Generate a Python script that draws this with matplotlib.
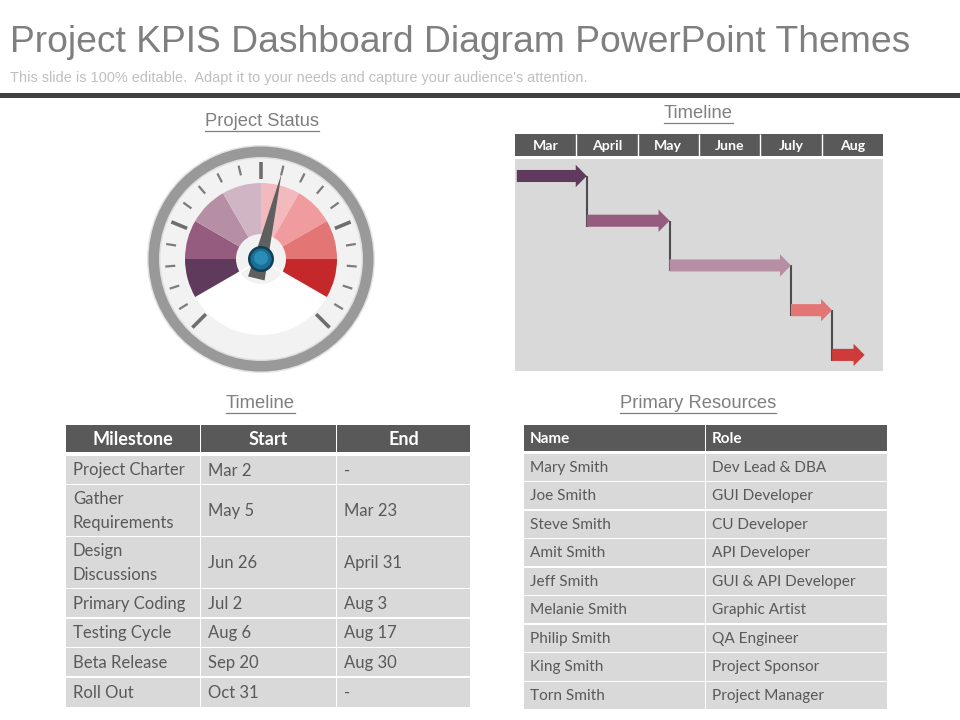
import matplotlib
matplotlib.use("Agg")
import math

import matplotlib.pyplot as plt
from matplotlib.patches import Circle, FancyArrow, Polygon, Rectangle, Wedge

# Table and timeline content
milestones = ["Project Charter", "Gather\nRequirements", "Design\nDiscussions", "Primary Coding",
              "Testing Cycle", "Beta Release", "Roll Out"]
milestone_start = ["Mar 2", "May 5", "Jun 26", "Jul 2", "Aug 6", "Sep 20", "Oct 31"]
milestone_end = ["-", "Mar 23", "April 31", "Aug 3", "Aug 17", "Aug 30", "-"]

names = ["Mary Smith", "Joe Smith", "Steve Smith", "Amit Smith", "Jeff Smith",
         "Melanie Smith", "Philip Smith", "King Smith", "Torn Smith"]
roles = ["Dev Lead & DBA", "GUI Developer", "CU Developer", "API Developer", "GUI & API Developer",
         "Graphic Artist", "QA Engineer", "Project Sponsor", "Project Manager"]

months = ["Mar", "April", "May", "June", "July", "Aug"]
gantt_start = [0.03, 1.17, 2.52, 4.5, 5.17]
gantt_end = [1.17, 2.52, 4.5, 5.17, 5.7]
gantt_colors = ["#5f3a5c", "#955c80", "#b78fa5", "#e47575", "#cf3b3b"]

gauge_colors = ["#5f3a5c", "#955c80", "#b78fa5", "#d0b6c4", "#f2b9bf", "#f09c9e", "#e47575", "#c5282a"]
gauge_value = 11  # scale runs 0 to 20

HEAD = "#595959"
CELL = "#d9d9d9"
GREY_TEXT = "#7f7f7f"
CELL_TEXT = "#595959"
W, H = 960, 720

fig = plt.figure(figsize=(9.6, 7.2), dpi=100)
page = fig.add_axes([0, 0, 1, 1])
page.set_xlim(0, W)
page.set_ylim(H, 0)
page.axis("off")


def px_axes(x0, y0, x1, y1):
    return fig.add_axes([x0 / W, 1 - y1 / H, (x1 - x0) / W, (y1 - y0) / H])


def section_title(x, y, label):
    t = page.text(x, y + 1, label, ha="center", va="center", fontsize=13.2,
                  family="Liberation Sans", color=GREY_TEXT)
    box = t.get_window_extent(fig.canvas.get_renderer())
    page.plot([box.x0, box.x1], [y + 10, y + 10], color=GREY_TEXT, lw=0.9)


def draw_table(col_x, top, head_h, gap, heads, columns, row_heights, head_size, size, head_center, pad):
    for c, head in enumerate(heads):
        x0, x1 = col_x[c] + (1 if c else 0), col_x[c + 1]
        page.add_patch(Rectangle((x0, top), x1 - x0, head_h, fc=HEAD, ec="none"))
        tx = (x0 + x1) / 2 if head_center else x0 + pad
        page.text(tx, top + head_h / 2 + 1, head, ha="center" if head_center else "left", va="center",
                  fontsize=head_size, fontweight="bold", family="Lato", color="white")
    y = top + head_h + gap
    for r, row_h in enumerate(row_heights):
        for c, col in enumerate(columns):
            x0, x1 = col_x[c] + (1 if c else 0), col_x[c + 1]
            page.add_patch(Rectangle((x0, y), x1 - x0, row_h, fc=CELL, ec="none"))
            page.text(x0 + pad, y + row_h / 2 + 0.5, col[r], ha="left", va="center", fontsize=size,
                      family="Lato", color=CELL_TEXT, linespacing=1.6)
        y += row_h + 1.3


# Header
page.text(10, 42, "Project KPIS Dashboard Diagram PowerPoint Themes", ha="left", va="center",
          fontsize=26.8, family="Liberation Sans", color=GREY_TEXT)
page.text(10, 78, "This slide is 100% editable.  Adapt it to your needs and capture your audience's attention.",
          ha="left", va="center", fontsize=10.45, family="Liberation Sans", color="#bfbfbf")
page.add_patch(Rectangle((0, 93), W, 4.5, fc="#404040", ec="none"))

section_title(262, 121, "Project Status")
section_title(698, 113, "Timeline")
section_title(260, 403, "Timeline")
section_title(698, 403, "Primary Resources")

# Gauge, axes units are pixels from the hub
gauge = px_axes(261 - 120, 259 - 120, 261 + 120, 259 + 120)
gauge.set_xlim(-120, 120)
gauge.set_ylim(-120, 120)
gauge.set_aspect("equal")
gauge.axis("off")
gauge.add_patch(Circle((0, 0), 114, fc="#e3e3e3", ec="none"))
gauge.add_patch(Circle((0, 0), 112.5, fc="#999999", ec="none"))
gauge.add_patch(Circle((0, 0), 102, fc="#dedede", ec="none"))
gauge.add_patch(Circle((0, 0), 100.5, fc="#f2f2f2", ec="none"))
gauge.add_patch(Circle((0, 0), 76, fc="white", ec="none"))

for i, color in enumerate(gauge_colors):
    hi = 210 - 30 * i
    gauge.add_patch(Wedge((0, 0), 76, hi - 30, hi, width=76, fc=color, ec="none"))
gauge.add_patch(Circle((0, 0), 25, fc="#f2f2f2", ec="none"))
gauge.add_patch(Wedge((0, 0), 27, 210, 330, width=27, fc="white", ec="none"))
gauge.add_patch(Wedge((0, 0), 25, 215, 325, width=25, fc="#f2f2f2", ec="none"))


def scale_angle(v):
    return math.radians(225 - 13.5 * v)


for v in range(21):
    a = scale_angle(v)
    major = v % 5 == 0
    r0 = 97 if major else 96
    r1 = 80 if major else 86
    if v in (0, 20):
        r1 = 78
    color = "#6e6e6e" if major else "#7c7c7c"
    gauge.plot([r0 * math.cos(a), r1 * math.cos(a)], [r0 * math.sin(a), r1 * math.sin(a)],
               color=color, lw=2.6 if major else 1.6, solid_capstyle="butt")

# Needle
a = scale_angle(gauge_value)
ux, uy = math.cos(a), math.sin(a)
nx, ny = -uy, ux
gauge.add_patch(Polygon([(88 * ux, 88 * uy),
                         (-20 * ux + 8.5 * nx, -20 * uy + 8.5 * ny),
                         (-20 * ux - 8.5 * nx, -20 * uy - 8.5 * ny)],
                        closed=True, fc="#5f5f5f", ec="none"))
gauge.add_patch(Circle((0, 0), 13, fc="#123f56", ec="none"))
gauge.add_patch(Circle((0, 0), 10.5, fc="#1c6f94", ec="none"))
gauge.add_patch(Circle((0, 1), 7, fc="#2a8db5", ec="none"))

# Timeline header cells
month_w = (883 - 515) / len(months)
for i, month in enumerate(months):
    x0 = 515 + i * month_w
    page.add_patch(Rectangle((x0, 134), month_w, 22, fc=HEAD, ec="none"))
    if i:
        page.plot([x0, x0], [134, 156], color="white", lw=1, solid_capstyle="butt")
    page.text(x0 + month_w / 2, 146, month, ha="center", va="center", fontsize=10.2,
              fontweight="bold", family="Lato", color="white")

# Gantt, x in months and y in rows
gantt = px_axes(515, 159, 883, 371)
gantt.set_xlim(0, len(months))
gantt.set_ylim(4.36, -0.38)
gantt.set_facecolor(CELL)
gantt.set_xticks([])
gantt.set_yticks([])
for side in gantt.spines.values():
    side.set_visible(False)

for i, (s, e, color) in enumerate(zip(gantt_start, gantt_end, gantt_colors)):
    if i < len(gantt_start) - 1:
        gantt.plot([e, e], [i, i + 1.13], color="#4d4d4d", lw=1.5, solid_capstyle="butt", zorder=2)
    gantt.add_patch(FancyArrow(s, i, e - s, 0, width=0.27, head_width=0.5, head_length=0.18,
                               length_includes_head=True, fc=color, ec="none", zorder=3))

# Tables
draw_table([66, 200, 336, 470], 425, 27, 4, ["Milestone", "Start", "End"],
           [milestones, milestone_start, milestone_end],
           [28, 50.5, 50.5, 28.5, 28, 28.5, 29], 13, 12, True, 7)
draw_table([524, 705, 887], 425, 26, 3, ["Name", "Role"], [names, roles],
           [27, 27, 27.5, 27, 27, 27.5, 27, 27.5, 27], 11, 11.1, False, 6)

fig.savefig("out.png", dpi=100)
